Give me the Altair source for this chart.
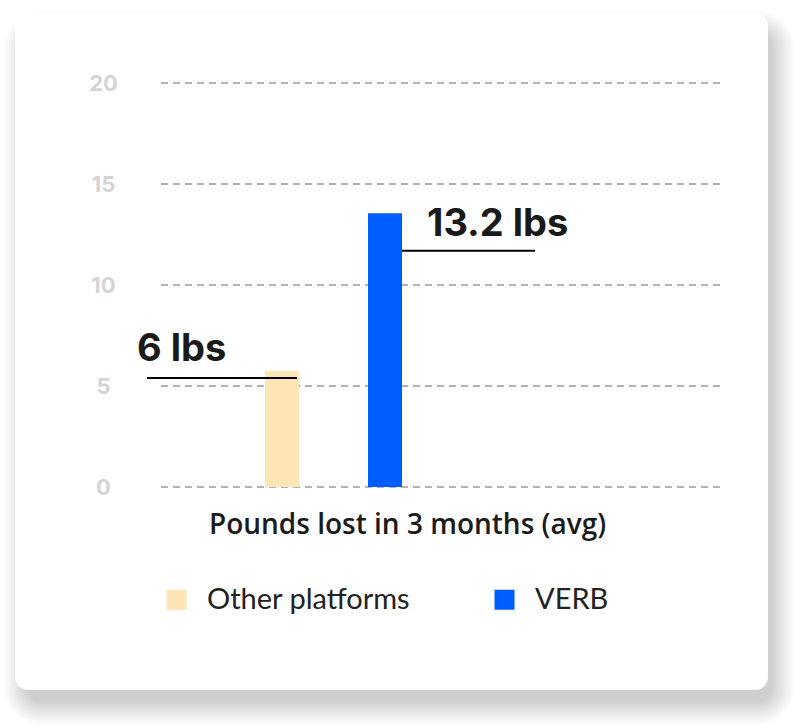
import altair as alt
import pandas as pd

# ---- data ----
platforms = ["Other platforms", "VERB"]
pounds_lost = [5.75, 13.55]
bar_colors = ["#FDE5B6", "#005EFF"]
annot_text = ["6 lbs", "13.2 lbs"]
annot_level = [5.4, 11.7]
y_ticks = [0, 5, 10, 15, 20]
x_title = "Pounds lost in 3 months (avg)"

df = pd.DataFrame({"platform": platforms, "lbs": pounds_lost,
                   "label": annot_text, "level": annot_level})
grid_df = pd.DataFrame({"tick": y_ticks})
one = pd.DataFrame({"k": [0]})

W, H = 560, 404

x_scale = alt.Scale(domain=platforms, paddingInner=0.67, paddingOuter=0, range=[105, 242])
y_scale = alt.Scale(domain=[0, 20], nice=False)

# ---- card with soft shadow (decoration) ----
layers = []
for e in range(2, 26, 2):
    layers.append(
        alt.Chart(one).mark_rect(fill="#000000", opacity=0.017, cornerRadius=12 + e).encode(
            x=alt.value(-131 - e), x2=alt.value(610 + e),
            y=alt.value(-48 - e), y2=alt.value(617 + e))
    )
card = alt.Chart(one).mark_rect(fill="#ffffff", cornerRadius=13).encode(
    x=alt.value(-145), x2=alt.value(608), y=alt.value(-70), y2=alt.value(607))
layers.append(card)

grid = alt.Chart(grid_df).mark_rule(color="#999999", strokeWidth=1.4, strokeDash=[7, 5]).encode(
    y=alt.Y("tick:Q", scale=y_scale))
layers.append(grid)

bars = alt.Chart(df).mark_bar().encode(
    x=alt.X("platform:N", scale=x_scale, sort=platforms,
            axis=alt.Axis(title=x_title, labels=False, ticks=False, domain=False, grid=False,
                          titleFont="Open Sans", titleFontSize=28, titleFontWeight=600,
                          titleColor="#1b1b1b", titleX=247, titleY=46,
                          titleAlign="center", titleBaseline="alphabetic", zindex=1)),
    y=alt.Y("lbs:Q", scale=y_scale,
            axis=alt.Axis(values=y_ticks, grid=False, domain=False, ticks=False, title=None,
                          labelFont="Inter", labelFontSize=22, labelFontWeight="bold",
                          labelColor="#d4d4d4", labelAlign="center", labelPadding=57,
                          zindex=1)),
    color=alt.Color("platform:N", scale=alt.Scale(domain=platforms, range=bar_colors),
                    legend=alt.Legend(title=None, orient="none", legendX=2, legendY=502,
                                      direction="horizontal", symbolType="square",
                                      symbolSize=400, symbolStrokeWidth=0, symbolOpacity=1,
                                      labelFont="Lato", labelFontSize=29, labelColor="#222222",
                                      labelOffset=16, labelLimit=0, columnPadding=79)),
)
layers.append(bars)

# ---- annotations ----
tick_cfg = [(-60, 150), (83.5, 133)]
text_cfg = [(-145, -16.6), (42, -14.3)]
for i, p in enumerate(platforms):
    sub = alt.Chart(df).transform_filter(alt.datum.platform == p)
    off, length = tick_cfg[i]
    layers.append(sub.mark_tick(color="#000000", thickness=2, size=length, xOffset=off,
                                orient="horizontal", opacity=1).encode(
        x=alt.X("platform:N", scale=x_scale, sort=platforms),
        y=alt.Y("level:Q", scale=y_scale)))
    dx, dy = text_cfg[i]
    layers.append(sub.mark_text(align="left", baseline="alphabetic", dx=dx, dy=dy, font="Inter",
                                fontSize=38, fontWeight="bold", color="#1a1a1a").encode(
        x=alt.X("platform:N", scale=x_scale, sort=platforms),
        y=alt.Y("level:Q", scale=y_scale),
        text="label:N"))

chart = alt.layer(*layers).properties(
    width=W, height=H,
    autosize=alt.AutoSizeParams(type="none"),
    padding={"left": 160, "top": 83, "right": 80, "bottom": 239},
    background="#ffffff",
).configure_view(strokeWidth=0)

chart.save("out.html", embed_options={"renderer": "svg", "actions": False})
